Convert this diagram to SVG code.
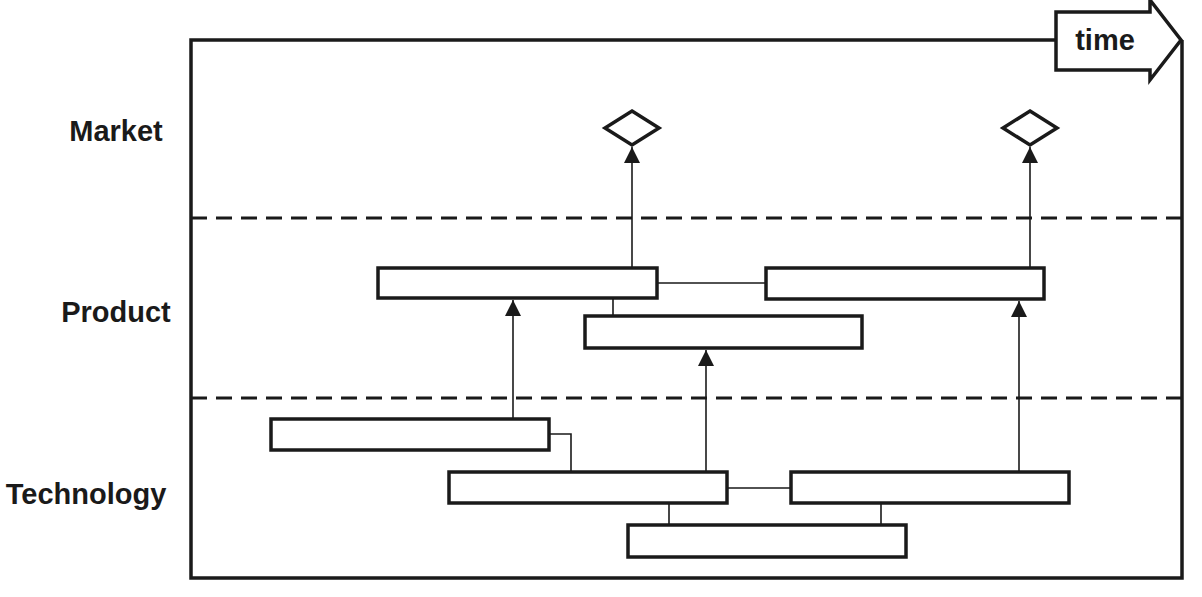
<svg xmlns="http://www.w3.org/2000/svg" width="1202" height="597" viewBox="0 0 1202 597">
<defs>
<style>
.b{fill:#fff;stroke:#1a1a1a;stroke-width:3.5}
.t{font-family:"Liberation Sans",Arial,sans-serif;font-weight:bold;font-size:29px;fill:#1a1a1a;text-anchor:middle}
.c{stroke:#1a1a1a;stroke-width:1.6;fill:none}
.d{stroke:#1a1a1a;stroke-width:3;stroke-dasharray:16,9}
</style>
<marker id="a" viewBox="0 0 10 10" refX="10" refY="5" markerWidth="16" markerHeight="16" markerUnits="userSpaceOnUse" orient="auto"><path d="M0,0L10,5L0,10z" fill="#1a1a1a"/></marker>
</defs>
<rect x="0" y="0" width="1202" height="597" fill="#fff"/>
<g id="frame">
<path d="M1056,40H191V578H1182V40" fill="none" stroke="#1a1a1a" stroke-width="3.5"/>
<path class="d" d="M191,218H1182M191,398H1182"/>
</g>
<g id="time">
<path d="M1056,12H1150V0L1181,40L1150,80V70H1056Z" class="b"/>
<text class="t" x="1105" y="50" font-size="27">time</text>
</g>
<g id="labels">
<text class="t" x="116" y="141">Market</text>
<text class="t" x="116" y="322">Product</text>
<text class="t" x="86" y="504">Technology</text>
</g>
<g id="connectors">
<path class="c" d="M632,268V147" marker-end="url(#a)"/>
<path class="c" d="M1030,268V147" marker-end="url(#a)"/>
<path class="c" d="M513,419V300" marker-end="url(#a)"/>
<path class="c" d="M706,472V350" marker-end="url(#a)"/>
<path class="c" d="M1019,472V301" marker-end="url(#a)"/>
<path class="c" d="M657,283H766M613,298V316M549,434H571V472M727,488H791M669,503V525M881,503V525"/>
</g>
<g id="m1"><path class="b" d="M632,111L659,128L632,145L605,128Z"/></g>
<g id="m2"><path class="b" d="M1030,111L1057,128L1030,145L1003,128Z"/></g>
<g id="p1"><rect class="b" x="378" y="268" width="279" height="30"/></g>
<g id="p2"><rect class="b" x="766" y="268" width="278" height="31"/></g>
<g id="p3"><rect class="b" x="585" y="316" width="277" height="32"/></g>
<g id="t1"><rect class="b" x="271" y="419" width="278" height="31"/></g>
<g id="t2"><rect class="b" x="449" y="472" width="278" height="31"/></g>
<g id="t3"><rect class="b" x="791" y="472" width="278" height="31"/></g>
<g id="t4"><rect class="b" x="628" y="525" width="278" height="32"/></g>
</svg>
